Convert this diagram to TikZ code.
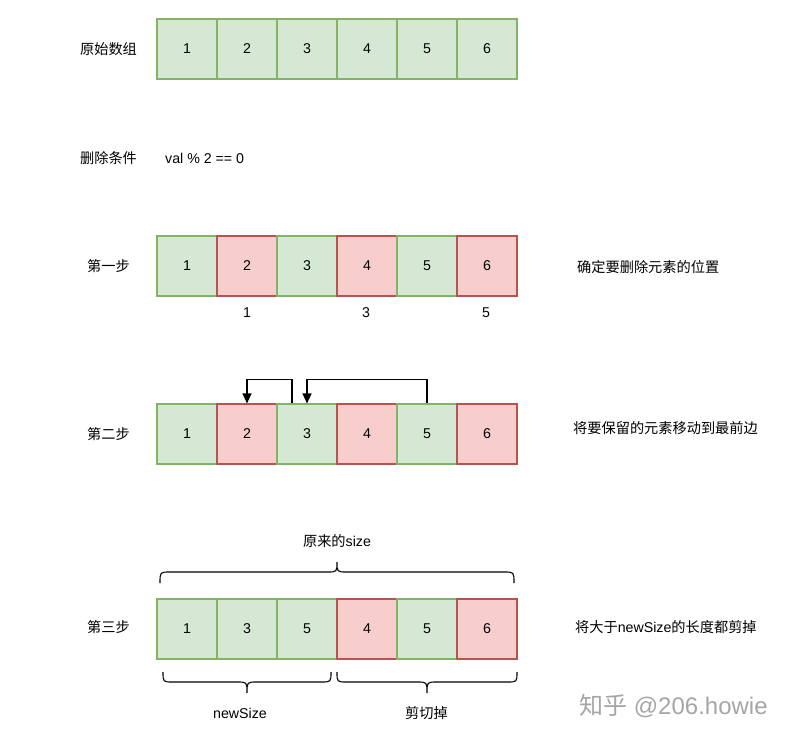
\documentclass[tikz,border=0pt]{standalone}
\usepackage{fontspec}
\setmainfont{Liberation Sans}
\newfontfamily\cjk{Noto Sans CJK SC}
\usetikzlibrary{arrows.meta,calc}
\definecolor{gfill}{HTML}{D5E8D4}
\definecolor{gline}{HTML}{82B366}
\definecolor{rfill}{HTML}{F8CECC}
\definecolor{rline}{HTML}{B85450}
\begin{document}
\begin{tikzpicture}[x=1pt,y=-1pt,
  every node/.style={font=\fontsize{14.2}{17}\selectfont, inner sep=0pt},
  cell/.style={draw, line width=1.1pt, minimum width=60pt, minimum height=60pt, anchor=center},
  gcell/.style={cell, fill=gfill, draw=gline},
  rcell/.style={cell, fill=rfill, draw=rline},
  lbl/.style={anchor=center},
  mover/.style={line width=1.3pt, -{Triangle[length=10pt,width=9pt]}},
  brace/.style={line width=1.1pt}
]
\useasboundingbox (0,0) rectangle (788,740);
\fill[white] (0,0) rectangle (788,740);

% row 1
\node[lbl] (t1) at (108.5,49) {\cjk 原始数组};
\foreach \i/\s in {1/g,2/g,3/g,4/g,5/g,6/g}
  \node[\s cell] (a\i) at (157+60*\i-30,49) {\i};

% condition
\node[lbl] (t2) at (108.5,158) {\cjk 删除条件};
\node[anchor=west] (cond) at (165,158) {val \% 2 == 0};

% row 2
\node[lbl] (t3) at (108.5,266) {\cjk 第一步};
\foreach \i/\s in {1/g,2/r,3/g,4/r,5/g,6/r}
  \node[\s cell] (b\i) at (157+60*\i-30,266) {\i};
\node[lbl] (d1) at (247,313) {1};
\node[lbl] (d2) at (366,313) {3};
\node[lbl] (d3) at (486,313) {5};
\node[anchor=west] (n1) at (577,267) {\cjk 确定要删除元素的位置};

% row 3
\node[lbl] (t4) at (108.5,434) {\cjk 第二步};
\foreach \i/\s in {1/g,2/r,3/g,4/r,5/g,6/r}
  \node[\s cell] (c\i) at (157+60*\i-30,434) {\i};
\node[anchor=west] (n2) at (573,428) {\cjk 将要保留的元素移动到最前边};
\draw[mover] ($(c3.north)+(-15,0)$) -- ++(0,-24) -| (c2.north);
\draw[mover] (c5.north) -- ++(0,-24) -| (c3.north);

% row 4
\node[lbl] (t5) at (108.5,627) {\cjk 第三步};
\foreach \i/\v/\s in {1/1/g,2/3/g,3/5/g,4/4/r,5/5/g,6/6/r}
  \node[\s cell] (e\i) at (157+60*\i-30,629) {\v};
\node[anchor=west] (n3) at (575,627) {{\cjk 将大于}newSize{\cjk 的长度都剪掉}};

% braces
\node[lbl] (top) at (337,541) {{\cjk 原来的}size};
\draw[brace] (160,583) .. controls (160,572) .. (170,572) -- (327,572)
  .. controls (337,572) .. (337,562) .. controls (337,572) .. (347,572)
  -- (504,572) .. controls (514,572) .. (514,583);
\draw[brace] (163,672) .. controls (163,682) .. (173,682) -- (237,682)
  .. controls (247,682) .. (247,693) .. controls (247,682) .. (257,682)
  -- (321,682) .. controls (331,682) .. (331,672);
\draw[brace] (337,672) .. controls (337,682) .. (347,682) -- (417,682)
  .. controls (427,682) .. (427,693) .. controls (427,682) .. (437,682)
  -- (507,682) .. controls (517,682) .. (517,672);
\node[lbl] (ns) at (240,713) {newSize};
\node[lbl] (cut) at (426.5,713) {\cjk 剪切掉};

% watermark
\node[anchor=west, text=black!35, font=\fontsize{24}{28}\selectfont] (wm) at (579,706) {{\cjk 知乎} @206.howie};
\end{tikzpicture}
\end{document}
